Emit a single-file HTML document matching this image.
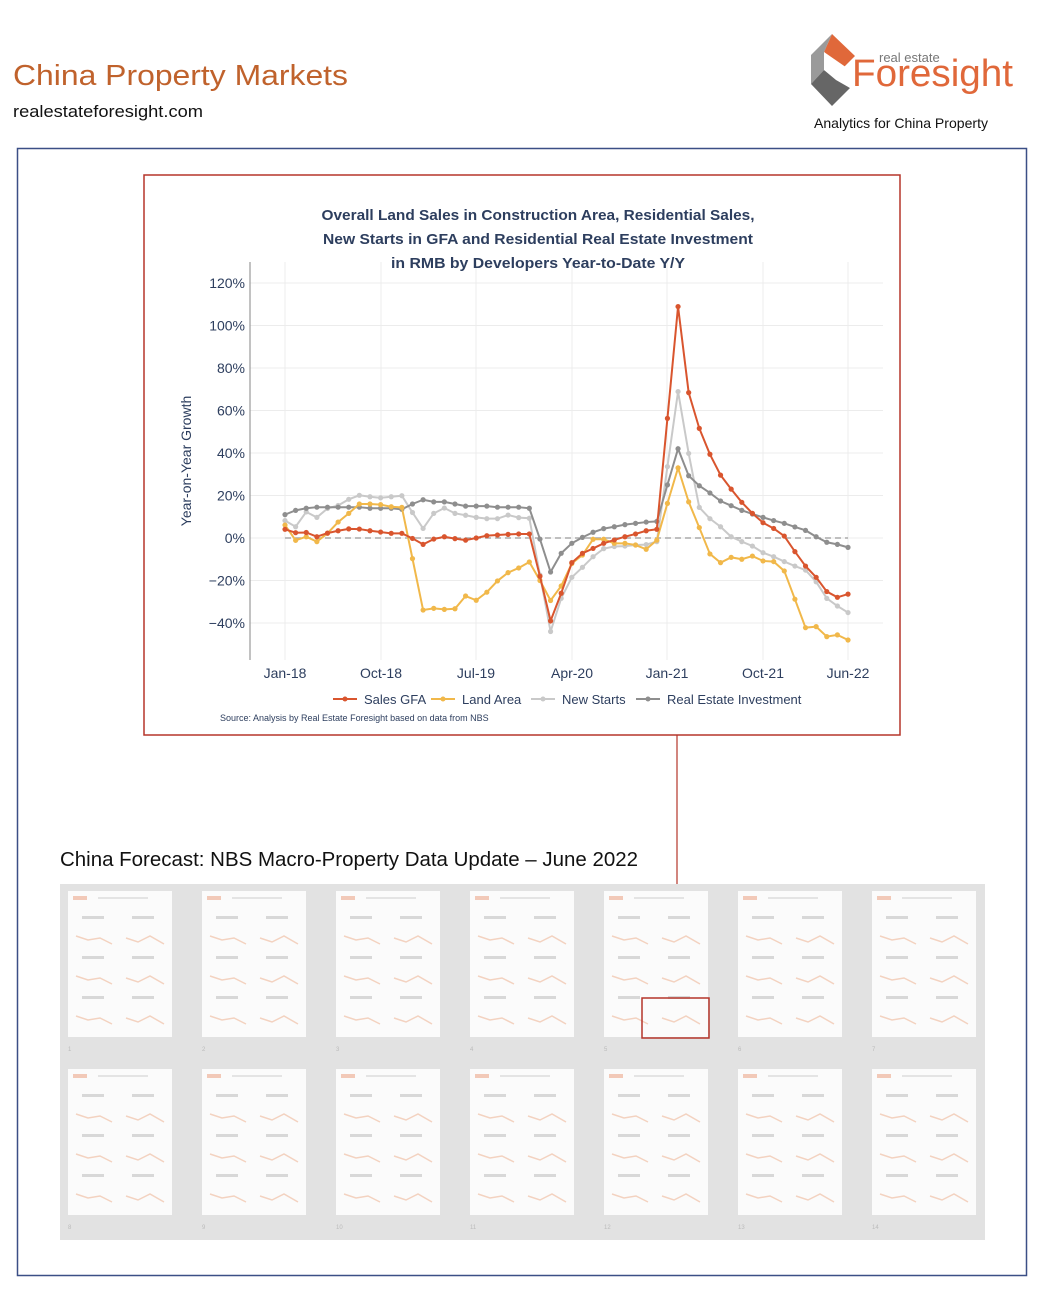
<!DOCTYPE html>
<html><head><meta charset="utf-8">
<style>
html,body{margin:0;padding:0;background:#fff;}
body{width:1056px;height:1304px;position:relative;overflow:hidden;font-family:"Liberation Sans",sans-serif;}
svg text{font-family:"Liberation Sans",sans-serif;}
</style></head><body>
<svg id="s" width="1056" height="1304" viewBox="0 0 1056 1304" xmlns="http://www.w3.org/2000/svg">
<!-- header -->
<text x="13" y="85" font-size="29" fill="#c0622c" textLength="335" lengthAdjust="spacingAndGlyphs">China Property Markets</text>
<text x="13" y="117" font-size="17" fill="#111" textLength="190" lengthAdjust="spacingAndGlyphs">realestateforesight.com</text>
<!-- logo -->
<polygon points="832,34 855,56 842,69 824,52" fill="#e0683a"/>
<polygon points="832,34 811,55 811,84 824,70 824,52" fill="#9a9a9a"/>
<polygon points="811,84 832,106 850,88 836,77 824,70" fill="#666"/>
<polygon points="824,52 824,70 836,80 850,88 850,70" fill="#fff"/>
<text x="879" y="62" font-size="13" fill="#777">real estate</text>
<text x="852" y="86" font-size="38" fill="#e0683a" textLength="161" lengthAdjust="spacingAndGlyphs">Foresight</text>
<text x="814" y="128" font-size="14" fill="#111" textLength="174" lengthAdjust="spacingAndGlyphs">Analytics for China Property</text>
<!-- outer box -->
<rect x="17.5" y="148.5" width="1009" height="1127" fill="none" stroke="#3b4f86" stroke-width="1.5"/>
<rect x="144" y="175" width="756" height="560" fill="#fff" stroke="#b5352a" stroke-width="1.5"/>
<g id="grid" stroke="#ececec" stroke-width="1"></g>
<!-- chart title -->
<g font-size="15" font-weight="bold" fill="#2d3e5e" text-anchor="middle">
<text x="538" y="220" textLength="433" lengthAdjust="spacingAndGlyphs">Overall Land Sales in Construction Area, Residential Sales,</text>
<text x="538" y="244" textLength="430" lengthAdjust="spacingAndGlyphs">New Starts in GFA and Residential Real Estate Investment</text>
<text x="538" y="268" textLength="294" lengthAdjust="spacingAndGlyphs">in RMB by Developers Year-to-Date Y/Y</text>
</g>
<line x1="250" y1="262" x2="250" y2="660" stroke="#999" stroke-width="1.2"/>
<line x1="285" y1="538" x2="848" y2="538" stroke="#aaa" stroke-width="1.5" stroke-dasharray="6,4"/>
<g id="ylab" font-size="14" fill="#2d3e5e" text-anchor="end"></g>
<g font-size="14" fill="#2d3e5e" text-anchor="middle">
<text x="285" y="678">Jan-18</text><text x="381" y="678">Oct-18</text><text x="476" y="678">Jul-19</text>
<text x="572" y="678">Apr-20</text><text x="667" y="678">Jan-21</text><text x="763" y="678">Oct-21</text><text x="848" y="678">Jun-22</text>
</g>
<text transform="translate(191,461) rotate(-90)" font-size="14" fill="#2d3e5e" text-anchor="middle">Year-on-Year Growth</text>
<g id="series"></g>
<!-- legend -->
<g font-size="13" fill="#2d3e5e">
<line x1="333" y1="699" x2="357" y2="699" stroke="#d9552e" stroke-width="2"/><circle cx="345" cy="699" r="2.5" fill="#d9552e"/><text x="364" y="704">Sales GFA</text>
<line x1="431" y1="699" x2="455" y2="699" stroke="#f1b84a" stroke-width="2"/><circle cx="443" cy="699" r="2.5" fill="#f1b84a"/><text x="462" y="704">Land Area</text>
<line x1="531" y1="699" x2="555" y2="699" stroke="#c9c9c9" stroke-width="2"/><circle cx="543" cy="699" r="2.5" fill="#c9c9c9"/><text x="562" y="704">New Starts</text>
<line x1="636" y1="699" x2="660" y2="699" stroke="#8e8e8e" stroke-width="2"/><circle cx="648" cy="699" r="2.5" fill="#8e8e8e"/><text x="667" y="704">Real Estate Investment</text>
</g>
<text x="220" y="721" font-size="9" fill="#2d3e5e">Source: Analysis by Real Estate Foresight based on data from NBS</text>
<!-- connector -->
<line x1="677" y1="735" x2="677" y2="998" stroke="#b5352a" stroke-width="1.2"/>
<text x="60" y="866" font-size="20" fill="#111" textLength="578" lengthAdjust="spacingAndGlyphs">China Forecast: NBS Macro-Property Data Update – June 2022</text>
<rect x="60" y="884" width="925" height="356" fill="#e2e2e2"/>
<g id="thumbs"></g>
<rect x="642" y="998" width="67" height="40" fill="none" stroke="#b5352a" stroke-width="1.5"/>
</svg>
<script>
const NS="http://www.w3.org/2000/svg";
function el(t,a,p){const e=document.createElementNS(NS,t);for(const k in a)e.setAttribute(k,a[k]);p.appendChild(e);return e;}
const g=document.getElementById('grid'),yl=document.getElementById('ylab');
for(let v=-40;v<=120;v+=20){const y=538-v/20*42.5;el('line',{x1:250,y1:y,x2:883,y2:y},g);const t=el('text',{x:245,y:y+5},yl);t.textContent=(v<0?'−':'')+Math.abs(v)+'%';}
[285,381,476,572,667,763,848].forEach(x=>el('line',{x1:x,y1:262,x2:x,y2:660},g));
const X=i=>285+i*10.623,Y=v=>538-v/20*42.5;
const inv=[11,13,14,14.5,14.5,14.5,14.5,14.5,14,14,14,13.5,16,18,17,17,16,15,15,15,14.5,14.5,14.5,14,-0.5,-16,-7.2,-2.5,0.3,2.7,4.4,5.3,6.3,6.9,7.5,7.8,25,42,29.3,24.6,21.2,17.4,15.2,13,11.3,9.7,8.2,6.9,5.2,3.6,0.6,-2,-3,-4.4];
const red=[4.1,2.5,2.6,0.6,2.3,3.4,4.3,4.2,3.4,2.8,2.2,2.2,-0.2,-3,-0.5,0.6,-0.3,-1,0,1.1,1.4,1.7,1.9,1.9,-18,-39,-26,-11.6,-7.2,-4.9,-2.5,-0.9,0.6,1.9,3.4,4.1,56.3,108.9,68.4,51.6,39.4,29.6,23,16.8,11.6,7.2,4.5,0.9,-6.4,-13.2,-18.5,-25.2,-27.9,-26.4];
const yel=[6.1,-1.1,0.6,-1.7,2.2,7.5,11.6,16,16,15.7,14.7,14.4,-9.7,-33.9,-33.1,-33.6,-33.3,-27.3,-29.3,-25.5,-20.2,-16.3,-14.1,-11.3,-20,-29.4,-22.6,-12,-8,-0.6,-0.6,-2.5,-2.5,-3.3,-5.3,-1,16.3,33,17,4.9,-7.5,-11.6,-9.1,-10,-8.5,-10.8,-11.1,-15.5,-28.8,-42.2,-41.7,-46.4,-45.6,-48];
const ns=[8.2,5.3,12.3,9.7,13.9,15.3,18.2,20.1,19.4,18.9,19.4,19.9,12,4.5,11.6,14.1,11.6,10.7,9.7,9.1,9.1,10.8,9.6,9.3,-17.4,-44,-28.4,-18.5,-13.8,-8.8,-5,-4,-3.8,-3.3,-3.1,-1.7,33.6,68.9,39.8,14.4,9.1,5.3,0.6,-1.7,-3.8,-6.9,-8.8,-11.1,-13.2,-15.1,-20.6,-28.4,-32,-35.1];
const sg=document.getElementById('series');
[[ns,'#c9c9c9'],[inv,'#8e8e8e'],[yel,'#f1b84a'],[red,'#d9552e']].forEach(([d,c])=>{
 el('polyline',{points:d.map((v,i)=>X(i)+','+Y(v)).join(' '),fill:'none',stroke:c,'stroke-width':2},sg);
 d.forEach((v,i)=>el('circle',{cx:X(i),cy:Y(v),r:2.6,fill:c},sg));
});
const th=document.getElementById('thumbs');
for(let r=0;r<2;r++)for(let c=0;c<7;c++){
 const x=68+c*134,y=r?1069:891;
 el('rect',{x:x,y:y,width:104,height:146,fill:'#fbfbfb'},th);
 el('rect',{x:x+5,y:y+5,width:14,height:4,fill:'#f2c9b8'},th);
 el('rect',{x:x+30,y:y+6,width:50,height:2,fill:'#e4e4e4'},th);
 for(let k=0;k<3;k++){const yy=y+25+k*40;
  el('polyline',{points:`${x+8},${yy+20} ${x+20},${yy+24} ${x+32},${yy+22} ${x+44},${yy+28}`,fill:'none',stroke:'#f3d2c0','stroke-width':1.5},th);
  el('polyline',{points:`${x+58},${yy+22} ${x+70},${yy+26} ${x+82},${yy+20} ${x+96},${yy+28}`,fill:'none',stroke:'#f3d2c0','stroke-width':1.5},th);
  el('rect',{x:x+14,y:yy,width:22,height:3,fill:'#d8d8d8'},th);
  el('rect',{x:x+64,y:yy,width:22,height:3,fill:'#d8d8d8'},th);}
 const tx=el('text',{x:x,y:y+160,'font-size':6,fill:'#bbb'},th);tx.textContent=r*7+c+1;
}
</script>
</body></html>
